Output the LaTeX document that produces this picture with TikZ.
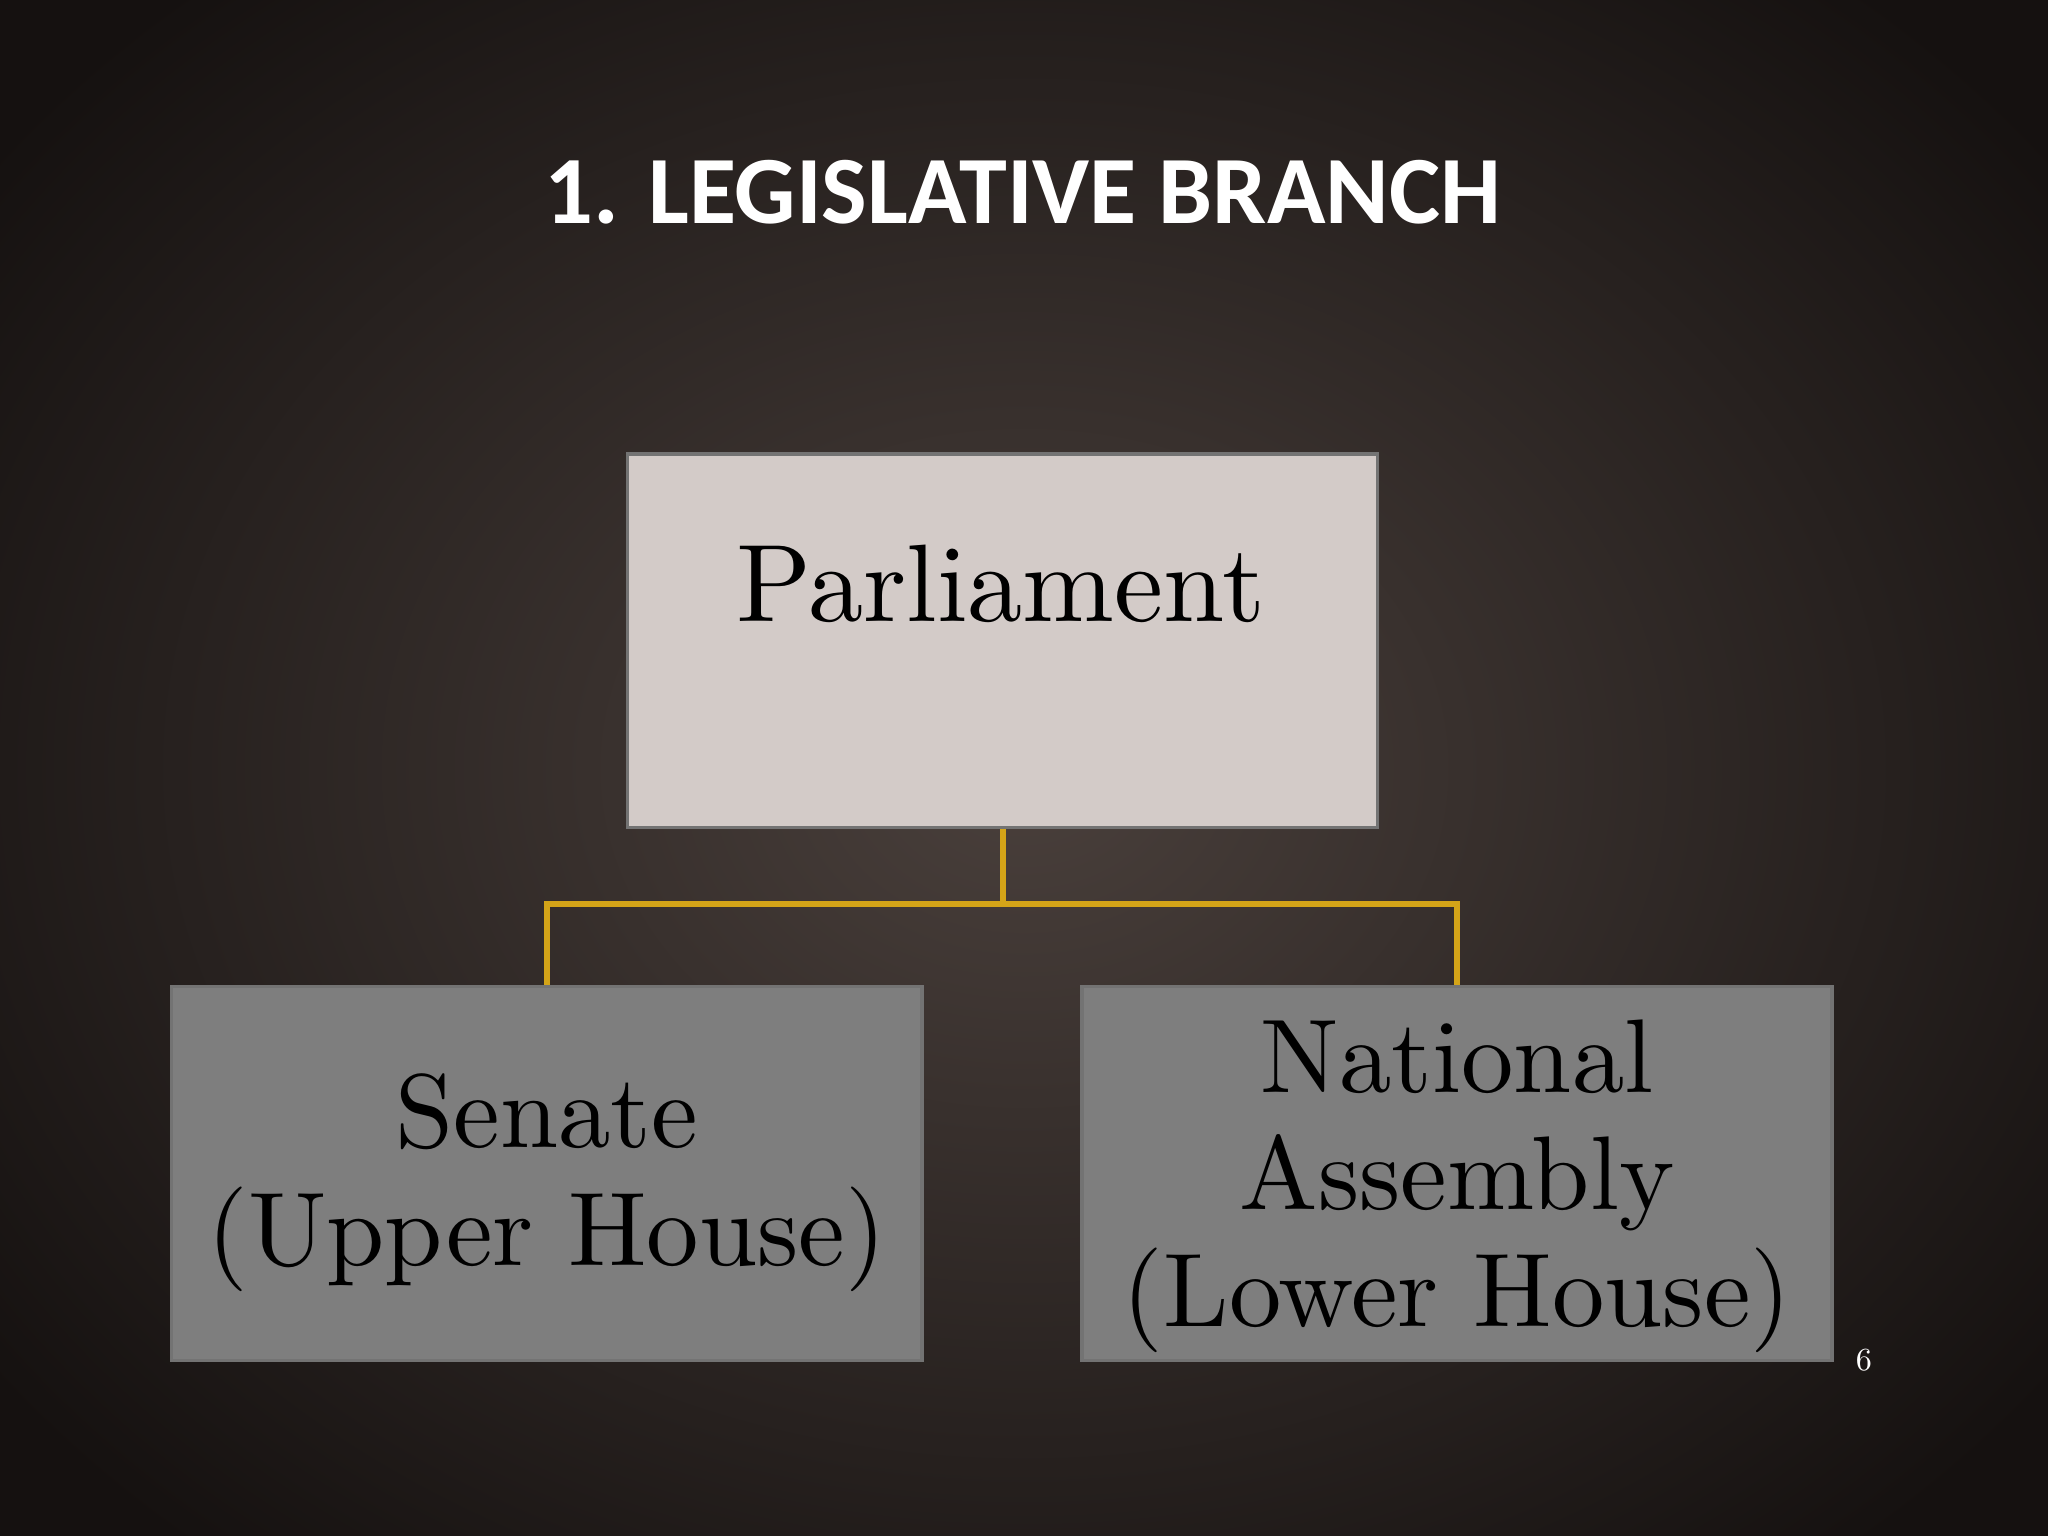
\documentclass[tikz,border=0pt]{standalone}
\usepackage{fontspec}
\setmainfont{lmroman10-regular.otf}
\newfontfamily\titlefont{Carlito}
\definecolor{bgin}{HTML}{4A403C}
\definecolor{bgout}{HTML}{151110}
\definecolor{topfill}{HTML}{D3CBC8}
\definecolor{lowfill}{HTML}{7E7E7E}
\definecolor{gold}{HTML}{D4A418}
\tikzset{
  box/.style={draw=black!55, line width=0.8pt, minimum width=5.74cm, minimum height=2.86cm, anchor=north west, inner sep=0pt},
  link/.style={draw=gold, line width=1.3pt}
}
\begin{document}
\begin{tikzpicture}[x=0.01cm,y=-0.01cm]
\useasboundingbox (0,0) rectangle (1568,1176);
\shade[inner color=bgin, outer color=bgout] (-200,-200) rectangle (1768,1376);
\node[font=\titlefont\bfseries\fontsize{21}{25}\selectfont, text=white] (title) at (783,147) {1. LEGISLATIVE BRANCH};
\node[box, fill=topfill] (parl) at (479,346) {};
\node[font=\fontsize{24}{30}\selectfont] (parlt) at (766,447) {Parliament};
\node[box, fill=lowfill] (sen) at (130,754) {};
\node[box, fill=lowfill] (nat) at (827,754) {};
\node[font=\fontsize{22.8}{25.5}\selectfont, align=center] (sent) at ([yshift=-0.07cm]sen.center) {Senate\\(Upper House)};
\node[font=\fontsize{22.8}{25.5}\selectfont, align=center] (natt) at ([yshift=-0.1cm]nat.center) {National\\Assembly\\(Lower House)};
\coordinate (j) at (766,692);
\draw[link] (parl.south) -- (parl.south |- j);
\draw[link] (sen.north) |- (j) -| (nat.north);
\node[font=\fontsize{7}{8}\selectfont, text=white] (pg) at (1427,1041) {6};
\end{tikzpicture}
\end{document}
